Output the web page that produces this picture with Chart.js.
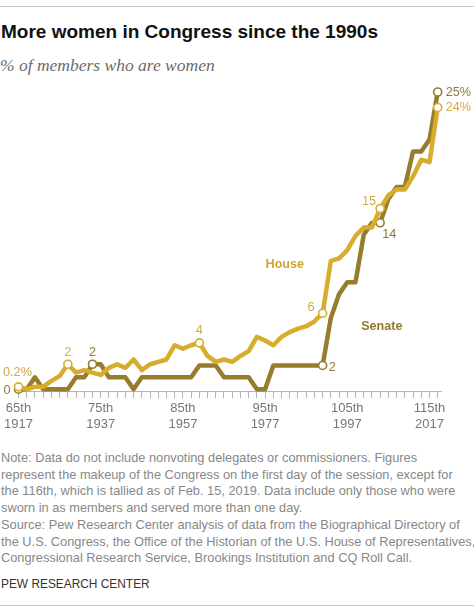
<!DOCTYPE html>
<html>
<head>
<meta charset="utf-8">
<script src="https://cdn.jsdelivr.net/npm/chart.js@4.4.1/dist/chart.umd.min.js"></script>
<style>
  html, body { margin: 0; padding: 0; background: #fff; }
  body { width: 474px; height: 615px; position: relative; overflow: hidden;
         font-family: "Liberation Sans", Arial, sans-serif; }
  .rule { position: absolute; left: 0; width: 474px; height: 1px; background: #c8c8c8; }
  #title { position: absolute; left: 1px; top: 21px; line-height: 22px; font-size: 19px;
           font-weight: bold; color: #111; white-space: nowrap; }
  #subtitle { position: absolute; left: 0; top: 54px; line-height: 22px; font-size: 17.5px;
              font-family: "Liberation Serif", serif; font-style: italic; color: #6b6b6b; white-space: nowrap; }
  #chart { position: absolute; left: 0; top: 0; }
  #notes { position: absolute; left: 1px; top: 450px; font-size: 12.8px; line-height: 16.7px;
           color: #878787; white-space: nowrap; }
  #credit { position: absolute; left: 1px; top: 576px; font-size: 11.9px; line-height: 16px;
            color: #333; white-space: nowrap; }
</style>
</head>
<body>
<div class="rule" style="top:6px"></div>
<div id="title">More women in Congress since the 1990s</div>
<div id="subtitle">% of members who are women</div>
<canvas id="chart" width="474" height="440"></canvas>
<div id="notes">Note: Data do not include nonvoting delegates or commissioners. Figures<br>represent the makeup of the Congress on the first day of the session, except for<br>the 116th, which is tallied as of Feb. 15, 2019. Data include only those who were<br>sworn in as members and served more than one day.<br>Source: Pew Research Center analysis of data from the Biographical Directory of<br>the U.S. Congress, the Office of the Historian of the U.S. House of Representatives,<br>Congressional Research Service, Brookings Institution and CQ Roll Call.</div>
<div id="credit">PEW RESEARCH CENTER</div>
<div class="rule" style="top:605px"></div>
<script>
// Congress number for each point (65th = 1917 ... 116th = 2019)
const congresses = [65, 66, 67, 68, 69, 70, 71, 72, 73, 74, 75, 76, 77, 78, 79, 80, 81, 82,
                    83, 84, 85, 86, 87, 88, 89, 90, 91, 92, 93, 94, 95, 96, 97, 98, 99, 100,
                    101, 102, 103, 104, 105, 106, 107, 108, 109, 110, 111, 112, 113, 114, 115, 116];

// % of members who are women
const housePct = [0.2, 0.0, 0.2, 0.2, 0.7, 1.1, 2.1, 1.4, 1.6, 1.4, 1.2, 1.8, 2.1, 1.8, 2.5, 1.6, 2.1, 2.3,
                  2.5, 3.7, 3.4, 3.7, 3.9, 2.8, 2.3, 2.5, 2.3, 2.8, 3.2, 4.4, 4.1, 3.7, 4.4, 4.8, 5.1, 5.3,
                  5.7, 6.4, 10.8, 11.0, 11.7, 12.9, 13.6, 13.6, 15.2, 16.3, 16.8, 16.8, 17.9, 19.3, 19.1, 23.7];
const senatePct = [0, 0, 1.0, 0, 0, 0, 0, 1.0, 1.0, 2.1, 2.1, 1.0, 1.0, 1.0, 0, 1.0, 1.0, 1.0,
                   1.0, 1.0, 1.0, 1.0, 2.0, 2.0, 2.0, 1.0, 1.0, 1.0, 1.0, 0, 0, 2.0, 2.0, 2.0, 2.0, 2.0,
                   2.0, 2.0, 6, 8, 9, 9, 13, 14, 14, 16, 17, 17, 20, 20, 21, 25];

// labelled points
const houseCallouts     = [65, 71, 87, 102, 109, 116];
const houseCalloutText  = ['0.2%', '2', '4', '6', '15', '24%'];
const senateCallouts    = [65, 74, 102, 109, 116];
const senateCalloutText = ['0', '2', '2', '14', '25%'];

// x axis tick labels
const axisCongresses = [65, 75, 85, 95, 105, 115];
const axisOrdinals   = ['65th', '75th', '85th', '95th', '105th', '115th'];
const axisYears      = ['1917', '1937', '1957', '1977', '1997', '2017'];

const HOUSE_COLOR  = '#d6ad2c';
const SENATE_COLOR = '#977c2d';
const HOUSE_TEXT   = '#d1aa45';
const SENATE_TEXT  = '#8f7938';

const calloutPlugin = {
    id: 'callouts',
    afterDatasetsDraw(chart, args, opts) {
        const { ctx } = chart;
        const xs = chart.scales.x, ys = chart.scales.y;
        ctx.save();
        ctx.textBaseline = 'middle';
        ctx.font = '12.7px "Liberation Sans", Arial, sans-serif';

        function put(congress, values, text, place, color) {
            const v = values[congresses.indexOf(congress)];
            const px = xs.getPixelForValue(congress);
            const py = ys.getPixelForValue(v);
            ctx.fillStyle = color;
            ctx.textAlign = place.align;
            ctx.fillText(text, px + place.dx, py + place.dy);
        }

        houseCallouts.forEach((c, i) =>
            put(c, housePct, houseCalloutText[i], opts.housePlaces[i], HOUSE_TEXT));
        senateCallouts.forEach((c, i) =>
            put(c, senatePct, senateCalloutText[i], opts.senatePlaces[i], SENATE_TEXT));

        ctx.font = 'bold 12.6px "Liberation Sans", Arial, sans-serif';
        ctx.textAlign = 'center';
        opts.seriesNames.forEach(s => {
            ctx.fillStyle = s.color;
            ctx.fillText(s.text, xs.getPixelForValue(s.x), ys.getPixelForValue(s.y));
        });
        ctx.restore();
    }
};

function markRadius(list) {
    return c => list.includes(congresses[c.dataIndex]) ? 4 : 0;
}

function mkDataset(label, values, color, marks) {
    return {
        label,
        data: congresses.map((c, i) => ({ x: c, y: values[i] })),
        borderColor: color,
        borderWidth: 4.5,
        borderJoinStyle: 'round',
        borderCapStyle: 'round',
        tension: 0,
        fill: false,
        clip: false,
        pointRadius: markRadius(marks),
        pointHoverRadius: markRadius(marks),
        pointBackgroundColor: '#ffffff',
        pointBorderColor: color,
        pointBorderWidth: 1.6,
    };
}

new Chart(document.getElementById('chart'), {
    type: 'line',
    data: {
        datasets: [
            mkDataset('House',  housePct,  HOUSE_COLOR,  houseCallouts),
            mkDataset('Senate', senatePct, SENATE_COLOR, senateCallouts),
        ]
    },
    options: {
        responsive: false,
        animation: false,
        events: [],
        layout: { padding: { left: 18.5, right: 33, top: 92, bottom: 5 } },
        plugins: {
            legend: { display: false },
            tooltip: { enabled: false },
            callouts: {
                housePlaces: [
                    { align: 'center', dx: -1, dy: -14 },
                    { align: 'center', dx: 0,  dy: -12 },
                    { align: 'center', dx: 0,  dy: -12 },
                    { align: 'right',  dx: -8, dy: -6 },
                    { align: 'right',  dx: -4, dy: -7 },
                    { align: 'left',   dx: 8,  dy: 0 },
                ],
                senatePlaces: [
                    { align: 'right',  dx: -8, dy: 1 },
                    { align: 'center', dx: 0,  dy: -12 },
                    { align: 'left',   dx: 6,  dy: 2 },
                    { align: 'left',   dx: 2,  dy: 12 },
                    { align: 'left',   dx: 8,  dy: 0 },
                ],
                seriesNames: [
                    { text: 'House',  x: 97.4,  y: 10.5, color: '#d0a52e' },
                    { text: 'Senate', x: 109.2, y: 5.3,  color: '#937a30' },
                ],
            },
        },
        scales: {
            x: {
                type: 'linear',
                min: 65,
                max: 116.4,
                afterFit: axis => { axis.height = 44; },
                border: { display: true, color: '#b5b5b5', width: 1 },
                grid: { drawOnChartArea: false, drawTicks: true, tickLength: 7, tickColor: '#b5b5b5', tickWidth: 1 },
                ticks: {
                    stepSize: 1,
                    includeBounds: false,
                    autoSkip: false,
                    maxRotation: 0,
                    minRotation: 0,
                    padding: 2,
                    color: '#777',
                    font: { family: '"Liberation Sans", Arial, sans-serif', size: 13, lineHeight: 1.25 },
                    callback: v => {
                        const i = axisCongresses.indexOf(v);
                        return i >= 0 ? [axisOrdinals[i], axisYears[i]] : '';
                    },
                },
            },
            y: {
                display: false,
                min: -0.15,
                max: 25,
            },
        },
    },
    plugins: [calloutPlugin],
});
</script>
</body>
</html>
